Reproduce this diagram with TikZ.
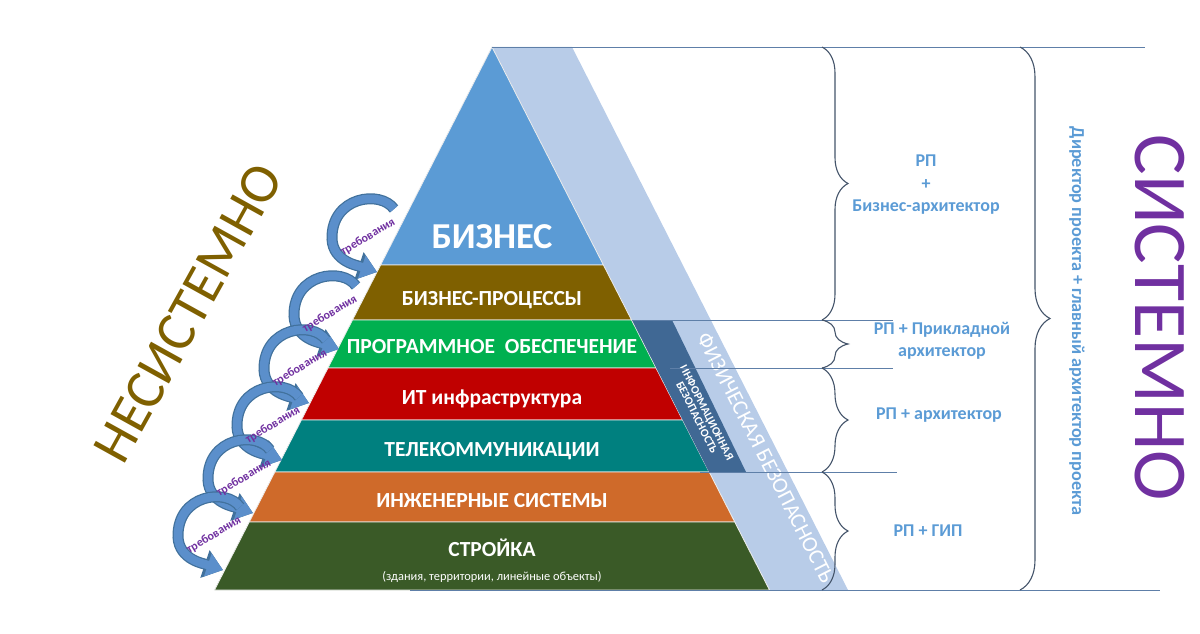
\documentclass[tikz,border=0pt]{standalone}
\usepackage{fontspec}
\setmainfont{Carlito}
\usepackage{tikz}
\usetikzlibrary{arrows.meta,decorations.pathreplacing}
\definecolor{bizblue}{HTML}{5B9BD5}
\definecolor{procbrown}{HTML}{7F6000}
\definecolor{softgreen}{HTML}{00B050}
\definecolor{itred}{HTML}{C00000}
\definecolor{telteal}{HTML}{00807F}
\definecolor{engorange}{HTML}{CF6A2A}
\definecolor{buildgreen}{HTML}{3A5A27}
\definecolor{infosec}{HTML}{406894}
\definecolor{physsec}{HTML}{B8CCE8}
\definecolor{roleblue}{HTML}{5B9BD5}
\definecolor{bracegray}{HTML}{44546A}
\definecolor{guideline}{HTML}{5E7FA8}
\definecolor{reqpurple}{HTML}{7030A0}
\definecolor{loopblue}{HTML}{5B8FCB}
\definecolor{loopedge}{HTML}{41719C}
\tikzset{
  layer/.style={fill=#1, draw=white!85!gray, line width=0.8pt},
  layertext/.style={text=white, font=\fontsize{21.5}{24}\selectfont\bfseries},
  role/.style={text=roleblue, font=\fontsize{18}{22.5}\selectfont\bfseries, align=center},
  guide/.style={draw=guideline, line width=0.8pt},
  curly/.style={draw=bracegray, line width=1.1pt, decorate, decoration={brace, amplitude=#1}},
  req/.style={text=reqpurple, font=\fontsize{12}{13}\selectfont\bfseries, rotate=31, inner sep=0pt},
  loopouter/.style={draw=loopedge, line width=11pt, -{Triangle[length=19pt,width=28pt]}},
  loopinner/.style={draw=loopblue, line width=8.5pt, -{Triangle[length=16pt,width=23pt]}},
}
\begin{document}
\begin{tikzpicture}[x=1pt, y=-1pt]
\useasboundingbox (0,0) rectangle (1200,634);

% physical security band
\fill[physsec] (492,47) -- (572,47) -- (848,590) -- (770,590) -- cycle;

% pyramid layers
\foreach \ya/\yb/\col in {47/265/bizblue, 265/320/procbrown, 320/368/softgreen,
  368/420/itred, 420/472/telteal, 472/522/engorange, 522/590/buildgreen}
{
  \filldraw[layer=\col] ({492-0.511*(\ya-47)},\ya) -- ({492+0.511*(\ya-47)},\ya)
    -- ({492+0.511*(\yb-47)},\yb) -- ({492-0.511*(\yb-47)},\yb) -- cycle;
}

% information security band
\fill[infosec] (632,320) -- (672,320) -- (746,472) -- (709,472) -- cycle;

\node[layertext, font=\fontsize{36.5}{38}\selectfont\bfseries] (biz) at (492,237) {БИЗНЕС};
\node[layertext] (proc) at (492,300) {БИЗНЕС-ПРОЦЕССЫ};
\node[layertext] (soft) at (492,347) {ПРОГРАММНОЕ\ \ ОБЕСПЕЧЕНИЕ};
\node[layertext] (infra) at (492,399) {ИТ инфраструктура};
\node[layertext] (tel) at (492,451) {ТЕЛЕКОММУНИКАЦИИ};
\node[layertext] (eng) at (492,501) {ИНЖЕНЕРНЫЕ СИСТЕМЫ};
\node[layertext] (build) at (492,548) {СТРОЙКА};
\node[text=white, font=\fontsize{12.4}{13}\selectfont] (buildnote) at (492,577)
  {(здания, территории, линейные объекты)};

\node[text=white, font=\fontsize{22}{24}\selectfont, rotate=-63] (phys) at (766,458)
  {ФИЗИЧЕСКАЯ БЕЗОПАСНОСТЬ};
\node[text=white, font=\fontsize{11.5}{11}\selectfont\bfseries, rotate=-63, align=center]
  (info) at (702,415) {ИНФОРМАЦИОННАЯ\\БЕЗОПАСНОСТЬ};

% level lines
\draw[guide] (492,47) -- (1145,47);
\draw[guide] (632,320) -- (893,320);
\draw[guide] (670,368) -- (893,368);
\draw[guide] (700,472) -- (897,472);
\draw[guide] (410,590) -- (1160,590);

% braces
\draw[curly=26pt] (822,47) -- (822,320);
\draw[curly=26pt] (822,320) -- (822,368);
\draw[curly=26pt] (822,368) -- (822,472);
\draw[curly=26pt] (822,472) -- (822,590);
\draw[curly=30pt] (1020,47) -- (1020,590);

\node[role] (r1) at (926,185) {РП\\+\\Бизнес-архитектор};
\node[role, font=\fontsize{18}{22}\selectfont\bfseries] (r2) at (942,341) {РП + Прикладной\\архитектор};
\node[role] (r3) at (939,415) {РП + архитектор};
\node[role] (r4) at (928,531) {РП + ГИП};
\node[text=roleblue, font=\fontsize{18.2}{20}\selectfont\bfseries, rotate=-90] (chief) at (1077,321)
  {Директор проекта + главный архитектор проекта};

\node[text=reqpurple, font=\fontsize{76}{80}\selectfont, rotate=-90] (sys) at (1160,318) {СИСТЕМНО};
\node[text=procbrown, font=\fontsize{56}{60}\selectfont, rotate=61] (nonsys) at (188,313) {НЕСИСТЕМНО};

% requirement loops
\foreach \tx/\ty [count=\k] in {377/272, 339/349, 309/403, 282/460, 253/513, 223/570}
{
  \coordinate (tail\k) at (\tx+17,\ty-63);
  \coordinate (tip\k) at (\tx,\ty);
  \foreach \s in {loopouter, loopinner}
    \draw[\s] (tail\k) .. controls (\tx+4,\ty-82) and (\tx-46,\ty-76) .. (\tx-45,\ty-33)
      .. controls (\tx-44,\ty-10) and (\tx-18,\ty-6) .. (tip\k);
}
\foreach \tx/\ty [count=\k] in {377/272, 339/349, 309/403, 282/460, 253/513, 223/570}
  \node[req] (req\k) at (\tx-9,\ty-35) {требования};
\end{tikzpicture}
\end{document}
